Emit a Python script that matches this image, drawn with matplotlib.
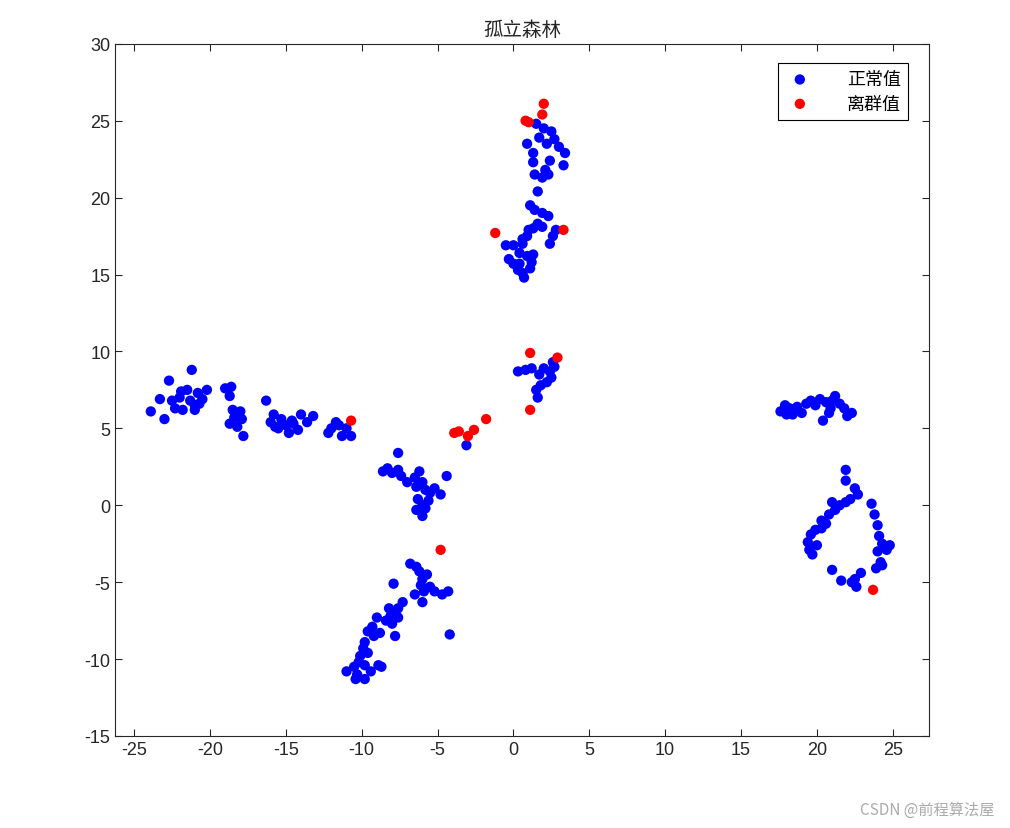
import matplotlib
matplotlib.use("Agg")
import matplotlib.pyplot as plt
import numpy as np

plt.rcParams['font.family'] = ['Noto Sans CJK SC', 'DejaVu Sans']
plt.rcParams['axes.unicode_minus'] = False

normal_x = [
-23.9,-23.3,-23.0,-22.7,-22.5,-22.0,-21.8,-21.5,-21.2,-21.0,-20.8,-20.5,-20.2,-21.9,-22.3,-21.3,-21.0,-20.7,
-19.0,-18.6,-18.7,-18.5,-18.3,-18.7,-18.2,-18.0,-17.8,-18.4,-17.9,
-16.3,-16.0,-15.8,-15.5,-15.3,-15.0,-14.8,-14.5,-14.2,-14.0,-13.6,-13.2,-15.7,-14.6,
-12.0,-11.7,-11.3,-10.7,-11.0,-11.5,-12.2,
-7.6,-8.6,-8.3,-8.0,-7.6,-7.4,-7.0,-6.5,-6.2,-6.0,-5.8,-6.4,-6.3,-6.0,-5.5,-5.2,-4.8,-4.4,-6.4,-5.8,-5.6,-6.0,
-6.8,-6.4,-6.2,-6.0,-5.7,-6.1,-5.5,-5.9,-5.2,-4.7,-4.3,-7.9,-6.5,-6.0,-4.2,-7.3,-7.6,-7.8,-8.1,-8.4,-8.0,-7.6,-8.2,-7.8,
-9.0,-9.3,-9.6,-9.2,-8.8,-9.8,-9.9,-10.1,-9.6,-10.2,-9.8,-10.5,-11.0,-10.3,-9.8,-10.4,-8.9,-8.7,-9.4,
-3.1,
0.3,0.8,1.2,1.7,2.0,2.4,2.7,2.5,1.8,1.5,2.2,1.6,2.6,
1.5,2.0,2.5,2.7,3.0,3.4,1.7,2.2,0.9,1.3,3.3,2.4,2.1,1.9,2.3,1.3,1.4,1.6,1.4,1.1,1.9,2.3,2.8,2.4,2.6,1.0,1.3,1.6,1.9,0.9,0.6,0.0,-0.5,0.4,0.6,-0.3,0.0,0.3,0.6,0.7,1.1,1.2,0.9,0.4,1.3,
17.6,17.9,18.2,18.4,18.7,19.0,19.3,19.6,19.9,20.2,20.4,20.6,20.9,21.2,21.5,21.8,22.0,22.3,21.0,20.8,18.0,
21.9,21.9,22.5,22.7,22.2,21.9,21.5,21.2,20.8,20.6,20.3,19.9,19.6,19.4,19.5,19.7,20.0,23.6,23.8,24.0,24.1,24.3,24.6,24.8,24.0,24.2,23.9,24.3,21.0,21.6,22.3,22.6,22.9,22.5,20.3,21.0]
normal_y = [
6.1,6.9,5.6,8.1,6.8,7.0,6.2,7.5,8.8,6.5,7.3,6.9,7.5,7.4,6.3,6.8,6.2,6.6,
7.6,7.7,7.1,6.2,5.9,5.3,5.1,6.1,4.5,5.7,5.6,
6.8,5.4,5.9,5.0,5.6,5.2,4.7,5.3,4.9,5.9,5.4,5.8,5.1,5.5,
5.0,5.4,4.5,4.5,5.0,5.2,4.7,
3.4,2.2,2.4,2.1,2.3,1.9,1.5,1.8,2.2,1.5,1.0,1.2,0.4,0.0,0.8,1.1,0.7,1.9,-0.3,-0.2,0.3,-0.7,
-3.8,-4.0,-4.3,-4.8,-4.5,-5.2,-5.3,-5.6,-5.6,-5.8,-5.6,-5.1,-5.8,-6.3,-8.4,-6.3,-6.7,-7.0,-7.2,-7.5,-7.7,-7.3,-6.7,-8.5,
-7.3,-7.9,-8.2,-8.5,-8.3,-8.9,-9.3,-9.8,-9.6,-10.2,-10.4,-10.5,-10.8,-11.0,-11.3,-11.3,-10.4,-10.5,-10.8,
3.9,
8.7,8.8,8.9,8.5,8.9,8.7,9.0,8.3,7.8,7.5,8.0,7.0,9.3,
24.8,24.5,24.3,23.8,23.3,22.9,23.9,23.5,23.5,22.9,22.1,22.4,21.8,21.3,21.5,22.3,21.5,20.4,19.2,19.5,19.0,18.8,17.9,17.0,17.5,17.9,18.0,18.3,18.1,17.5,17.3,16.9,16.9,16.4,17.0,16.0,15.7,15.3,15.1,14.8,15.4,15.8,16.2,15.7,16.3,
6.1,6.5,6.3,5.9,6.4,6.0,6.6,6.8,6.5,6.9,5.5,6.7,6.3,7.1,6.6,6.3,5.8,6.0,6.8,6.0,5.9,
2.3,1.6,1.1,0.7,0.4,0.2,0.0,-0.3,-0.6,-1.2,-1.5,-1.6,-1.9,-2.4,-2.9,-3.2,-2.6,0.1,-0.6,-1.3,-2.0,-2.5,-2.9,-2.6,-3.0,-3.7,-4.1,-3.9,-4.2,-4.9,-5.0,-5.3,-4.4,-4.8,-1.0,0.2]

outlier_x = [-10.7,-4.8,-3.9,-3.6,-3.0,-2.6,-1.8,1.1,2.9,1.1,0.8,1.0,1.9,2.0,-1.2,3.3,23.7]
outlier_y = [5.5,-2.9,4.7,4.8,4.5,4.9,5.6,9.9,9.6,6.2,25.0,24.9,25.4,26.1,17.7,17.9,-5.5]

fig = plt.figure(figsize=(10.1, 8.29), dpi=100)
ax = fig.add_axes([0.114, 0.111, 0.806, 0.835])
ax.scatter(normal_x, normal_y, s=55, c='#0000ff', edgecolors='none', label='正常值')
ax.scatter(outlier_x, outlier_y, s=55, c='#ff0000', edgecolors='none', label='离群值')
ax.set_xlim(-26.25, 27.4)
ax.set_ylim(-15, 30)
ax.set_xticks(np.arange(-25, 26, 5))
ax.set_yticks(np.arange(-15, 31, 5))
ax.tick_params(direction='in', top=True, right=True, labelsize=13, colors='#262626', length=5)
for lab in ax.get_xticklabels() + ax.get_yticklabels():
    lab.set_color('#262626')
    lab.set_family(['Liberation Sans', 'DejaVu Sans'])
for s in ax.spines.values():
    s.set_color('#262626')
    s.set_linewidth(0.8)
ax.set_title('孤立森林', fontsize=14, color='#262626', pad=6)
leg = ax.legend(loc='upper right', bbox_to_anchor=(908/1010, 1 - 64/829),
                bbox_transform=fig.transFigure, borderaxespad=0,
                fontsize=13, fancybox=False, edgecolor='black', framealpha=1,
                handletextpad=1.8, borderpad=0.4, handlelength=1.6, labelspacing=0.35)
leg.get_frame().set_linewidth(0.8)
fig.text(0.985, 0.012, 'CSDN @前程算法屋', ha='right', va='bottom', fontsize=11, color='#aaaaaa')
fig.savefig('out.png', dpi=100)
